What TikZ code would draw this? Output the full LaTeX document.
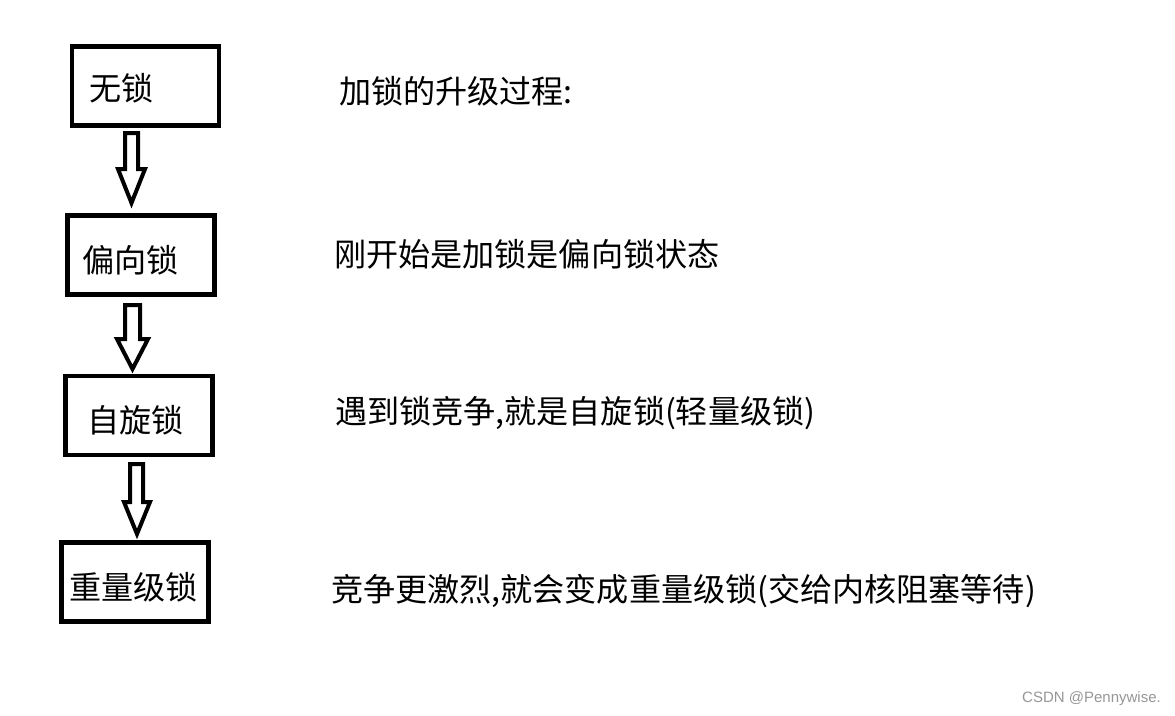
\documentclass[tikz,border=0pt]{standalone}
\usepackage{fontspec}
\newfontfamily\cjk{Noto Sans CJK SC}
\newfontfamily\wmfont{Liberation Sans}
\definecolor{wmgray}{RGB}{150,150,150}
\tikzset{
  lockbox/.style={draw=black, line width=4.5pt, fill=none, minimum width=147pt, minimum height=79pt, inner sep=0pt},
  lbl/.style={inner sep=0pt, anchor=west, font=\cjk\fontsize{32.1}{36}\selectfont},
  blockarrow/.style={draw=black, line width=4pt, line join=miter, fill=white},
}
\begin{document}
\begin{tikzpicture}[x=1pt, y=-1pt]
\useasboundingbox (0,0) rectangle (1175,715);
% boxes
\node[lockbox] (b1) at (145.5,86) {};
\node[lockbox] (b2) at (141,255) {};
\node[lockbox] (b3) at (139,415.5) {};
\node[lockbox] (b4) at (135,582) {};
% box labels
\node[lbl] (l1) at (89,88) {无锁};
\node[lbl] (l2) at (82,260) {偏向锁};
\node[lbl] (l3) at (87,420) {自旋锁};
\node[lbl] (l4) at (69,587) {重量级锁};
% block arrows
\draw[blockarrow] (125,133) -- (138,133) -- (138,169) -- (145,169) -- (131.5,203) -- (118,169) -- (125,169) -- cycle;
\draw[blockarrow] (125,305) -- (140,305) -- (140,339) -- (148,339) -- (132.5,369) -- (117,339) -- (125,339) -- cycle;
\draw[blockarrow] (130,464) -- (143,464) -- (143,502) -- (150,502) -- (137,534) -- (124,502) -- (130,502) -- cycle;
% descriptions
\node[lbl] (t0) at (339,91) {加锁的升级过程:};
\node[lbl] (t1) at (334,254) {刚开始是加锁是偏向锁状态};
\node[lbl] (t2) at (335,413) {遇到锁竞争,就是自旋锁(轻量级锁)};
\node[lbl] (t3) at (331,591) {竞争更激烈,就会变成重量级锁(交给内核阻塞等待)};
% watermark
\node[inner sep=0pt, anchor=west, text=wmgray, font=\wmfont\fontsize{15}{18}\selectfont] (wm) at (1022,699) {CSDN @Pennywise.};
\end{tikzpicture}
\end{document}
